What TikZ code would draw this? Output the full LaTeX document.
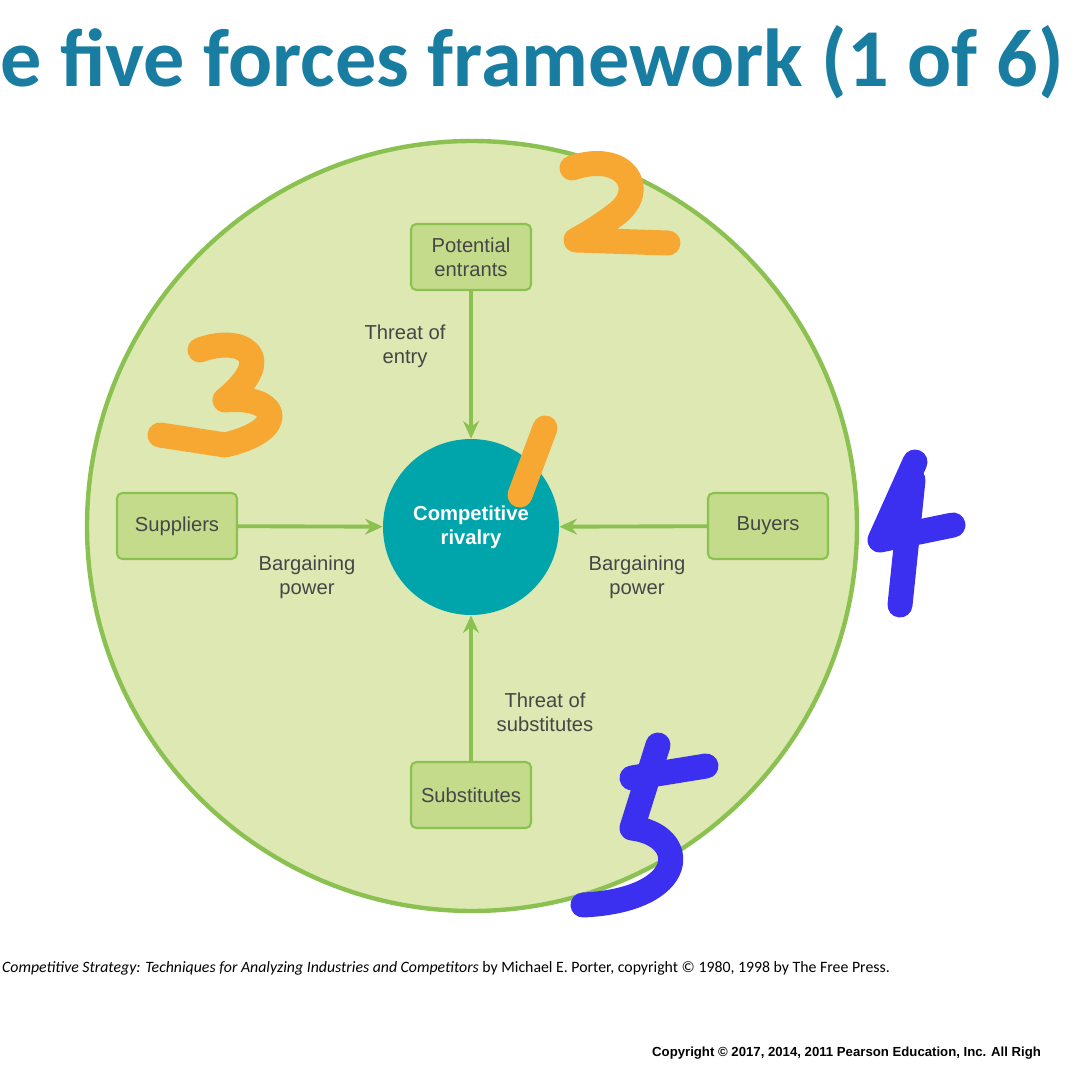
\documentclass[tikz,border=0pt]{standalone}
\usepackage{fontspec}
\setmainfont{Liberation Sans}
\newfontfamily\titlefont{Carlito}
\usepackage{xcolor}
\usetikzlibrary{positioning,arrows.meta}
\definecolor{ringgreen}{RGB}{139,193,80}
\definecolor{discfill}{RGB}{221,232,178}
\definecolor{boxfill}{RGB}{196,219,140}
\definecolor{rivalteal}{RGB}{0,165,172}
\definecolor{titleblue}{RGB}{24,125,160}
\definecolor{penorange}{RGB}{247,168,51}
\definecolor{penblue}{RGB}{60,48,240}
\definecolor{labelgray}{RGB}{70,70,70}

\begin{document}
\begin{tikzpicture}[
  x=0.02cm, y=-0.02cm,
  >=Stealth,
  force/.style={draw=ringgreen, line width=1.2pt, rounded corners=3pt, fill=boxfill, minimum width=2.4cm, minimum height=1.32cm, align=center, font=\fontsize{11.5}{13.5}\selectfont, text=labelgray},
  lbl/.style={align=center, font=\fontsize{11.5}{13.5}\selectfont, text=labelgray},
  arr/.style={->, draw=ringgreen, line width=2.2pt, arrows={-Stealth[length=10pt,width=9pt]}},
  pen/.style={line width=0.5cm, line cap=round, line join=round},
]
\useasboundingbox (0,0) rectangle (1080,1071);

% Outer disc
\draw[draw=ringgreen, line width=2.5pt, fill=discfill] (472,526) circle (385);

% Title and credits
\node[font=\titlefont\bfseries\fontsize{46.8}{50}\selectfont, text=titleblue, anchor=west] (title) at (-6,62) {e five forces framework (1 of 6)};
\node[font=\titlefont\fontsize{9}{10}\selectfont, anchor=west] (source) at (-4,968) {\textit{Competitive Strategy: Techniques for Analyzing Industries and Competitors} by Michael E. Porter, copyright \textcopyright{} 1980, 1998 by The Free Press.};
\node[font=\bfseries\fontsize{7.5}{9}\selectfont, anchor=west] (copy) at (646,1053) {Copyright \textcopyright{} 2017, 2014, 2011 Pearson Education, Inc. All Righ};

% Rivalry
\node[circle, fill=rivalteal, minimum size=3.52cm, align=center, text=white, font=\bfseries\fontsize{11.5}{13.5}\selectfont] (rivalry) at (471,527) {Competitive\\rivalry};

% Forces
\node[force] (entrants) at (471,257) {Potential\\entrants};
\node[force] (suppliers) at (177,526) {Suppliers};
\node[force] (buyers) at (768,526) {Buyers};
\node[force] (subst) at (471,795) {Substitutes};

% Arrows
\draw[arr] (entrants) -- (rivalry);
\draw[arr] (suppliers) -- (rivalry);
\draw[arr] (buyers) -- (rivalry);
\draw[arr] (subst) -- (rivalry);

% Labels
\node[lbl] (entry) at (405,346) {Threat of\\entry};
\node[lbl] (bpleft) at (307,577) {Bargaining\\power};
\node[lbl] (bpright) at (637,577) {Bargaining\\power};
\node[lbl] (subthreat) at (545,712) {Threat of\\substitutes};

% Handwritten numbers
\draw[pen, penorange] (572,168) .. controls (625,150) and (650,190) .. (615,215) .. controls (595,230) and (580,238) .. (576,240) -- (668,243);
\draw[pen, penorange] (200,350) .. controls (240,335) and (280,355) .. (225,400) .. controls (280,395) and (290,430) .. (225,445) -- (160,435);
\draw[pen, penorange] (545,428) -- (520,495);
\draw[pen, penblue] (915,462) -- (880,540) -- (953,525);
\draw[pen, penblue] (913,480) -- (900,605);
\draw[pen, penblue] (632,778) -- (706,766);
\draw[pen, penblue] (658,745) -- (632,828) .. controls (690,835) and (690,900) .. (583,905);
\end{tikzpicture}
\end{document}
